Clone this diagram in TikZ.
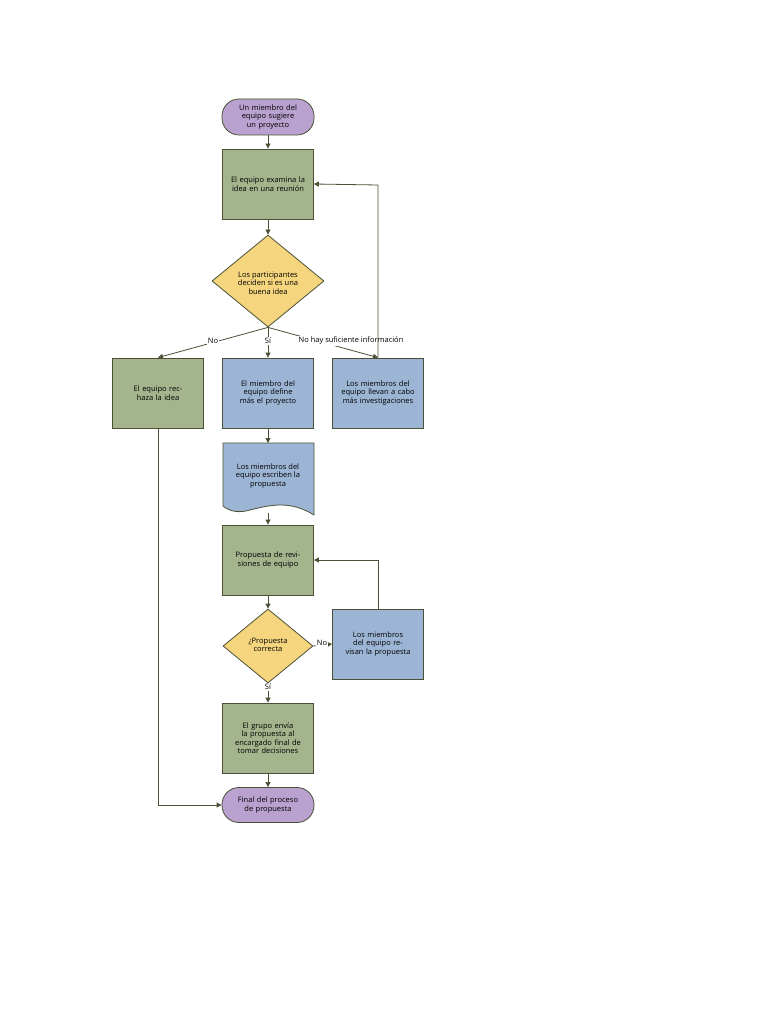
\documentclass[tikz,border=0pt]{standalone}
\usepackage{fontspec}
\setmainfont{Open Sans}
\usetikzlibrary{shapes.geometric,arrows.meta}
\definecolor{gr}{HTML}{A4B48C}
\definecolor{bl}{HTML}{9DB5D5}
\definecolor{ye}{HTML}{F5D67E}
\definecolor{pu}{HTML}{B9A2D0}
\definecolor{ln}{HTML}{4B5036}
\begin{document}
\begin{tikzpicture}[x=1pt,y=-1pt,
 base/.style={draw=ln,line width=0.8pt,font=\fontsize{7.5}{8.5}\selectfont,align=center,text width=80pt,inner sep=1pt},
 box/.style={base,rectangle,minimum width=91pt,minimum height=70pt},
 g/.style={box,fill=gr}, b/.style={box,fill=bl},
 term/.style={base,fill=pu,rounded corners=17pt,minimum width=92pt,minimum height=36pt},
 dia/.style={base,fill=ye,diamond,aspect=1.2,text width=60pt,inner sep=0pt},
 arr/.style={draw=ln,line width=0.8pt,-{Triangle[length=5pt,width=5pt]}},
 lab/.style={font=\fontsize{7.5}{8.5}\selectfont,fill=white,inner sep=1pt}]
\useasboundingbox (0,0) rectangle (768,1024);
\node[term] (s) at (268,117) {Un miembro del equipo sugiere un proyecto};
\node[g] (a) at (268,184) {El equipo examina la idea en una reunión};
\node[dia,minimum width=112pt,minimum height=92pt] (d1) at (268,281) {};
\node[font=\fontsize{7.5}{8.5}\selectfont,align=center] at (268,283) {Los participantes\\deciden si es una\\buena idea};
\node[g] (l) at (158,393) {El equipo rechaza la idea};
\node[b] (m) at (268,393) {El miembro del equipo define más el proyecto};
\node[b] (r) at (378,393) {Los miembros del equipo llevan a cabo más investigaciones};
\draw[draw=ln,line width=0.8pt,fill=bl] (223,443) -- (314,443) -- (314,515) .. controls (290,500) and (270,505) .. (250,510) .. controls (240,513) and (230,512) .. (223,506) -- cycle;
\node[font=\fontsize{7.5}{8.5}\selectfont,align=center] (doc) at (268,476) {Los miembros del\\equipo escriben la\\propuesta};
\coordinate (doct) at (268,443); \coordinate (docb) at (268,513);
\node[g] (p) at (268,560) {Propuesta de revisiones de equipo};
\node[dia,minimum width=90pt,minimum height=74pt] (d2) at (268,646) {};
\node[font=\fontsize{7.5}{8.5}\selectfont,align=center] at (268,645) {¿Propuesta\\correcta};
\node[b] (rv) at (378,644) {Los miembros del equipo revisan la propuesta};
\node[g] (e) at (268,738) {El grupo envía la propuesta al encargado final de tomar decisiones};
\node[term,minimum height=35pt] (f) at (268,805) {Final del proceso de propuesta};
\draw[arr] (s) -- (a);
\draw[arr] (a) -- (d1);
\draw[arr] (d1.south) -- (l.north);
\draw[arr] (d1.south) -- (m.north);
\draw[arr] (d1.south) -- (r.north);
\node[lab] at (213,341) {No};
\node[lab] at (268,341) {Sí};
\node[lab] at (351,341) {No hay suficiente información};
\draw[arr] (r.north) -- (378,185) -- (a.east);
\draw[arr] (m) -- (doct);
\draw[arr] (docb) -- (p);
\draw[arr] (p) -- (d2);
\draw[arr] (d2.east) -- (rv.west);
\node[lab] at (322,643) {No};
\draw[arr] (rv.north) -- (378,560) -- (p.east);
\draw[arr] (d2.south) -- (e.north);
\node[lab] at (268,687) {Sí};
\draw[arr] (e) -- (f);
\draw[arr] (l.south) -- (158,805) -- (f.west);
\end{tikzpicture}
\end{document}
